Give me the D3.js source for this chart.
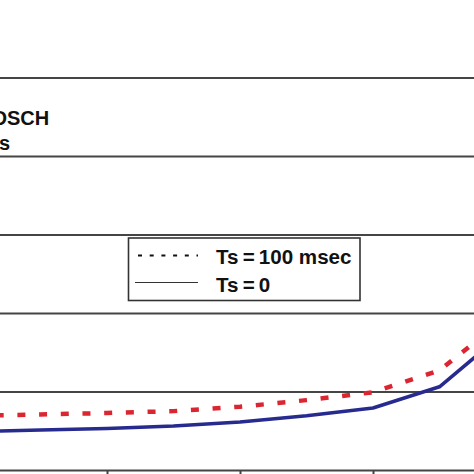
<!DOCTYPE html>
<html lang="en">
<head>
    <meta charset="utf-8">
    <title>Ts comparison</title>
    <style>
    html, body {
        margin: 0;
        padding: 0;
        background-color: white;
    }

    svg {
        display: block;
        background-color: white;
        font-family: 'Liberation Sans', Arial, sans-serif;
    }

    .grid line {
        stroke: #454545;
        stroke-width: 2px;
    }

    .x.axis path, .x.axis line {
        stroke: #454545;
        stroke-width: 2px;
    }

    .label {
        font-weight: bold;
        font-size: 20px;
        fill: #111;
    }

    .legend .label {
        font-size: 20.6px;
    }
    </style>
</head>
<body>
    <div id="vis"></div>

    <script src="https://cdn.jsdelivr.net/npm/d3@7"></script>
    <script>
var width = 474;
var height = 474;

// x positions of the samples, ticks every 10
var xValues = [0, 5, 10, 15, 20, 25, 30, 35, 40];
var xTicks = [0, 10, 20, 30, 40];
var yTicks = [1, 2, 3, 4, 5];

// Ts = 100 msec (dashed red)
var ts100 = [0.69, 0.707, 0.726, 0.75, 0.806, 0.89, 0.99, 1.27, 1.94];
// Ts = 0 (solid blue)
var ts0 = [0.49, 0.51, 0.53, 0.56, 0.61, 0.69, 0.79, 1.06, 1.77];

var legendLabels = ['Ts\u2009=\u2009100 msec', 'Ts\u2009=\u20090'];

var svg = d3.select('#vis')
    .append('svg')
    .attr('width', width)
    .attr('height', height);

var x_scale = d3.scaleLinear()
    .domain([0, 40])
    .range([-26, 506]);

var y_scale = d3.scaleLinear()
    .domain([0, 5])
    .range([470, 77.5]);

// horizontal grid lines
svg.append('g')
    .attr('class', 'grid')
    .call(d3.axisLeft(y_scale)
        .tickValues(yTicks)
        .tickSize(-width)
        .tickFormat(''))
    .call(function(g) { g.select('.domain').remove(); });

svg.append('g')
    .attr('class', 'x axis')
    .attr('transform', 'translate(0,' + y_scale(0) + ')')
    .call(d3.axisBottom(x_scale)
        .tickValues(xTicks)
        .tickSize(6)
        .tickSizeOuter(0)
        .tickFormat(''));

var line = d3.line()
    .x(function(d, i) { return x_scale(xValues[i]); })
    .y(function(d) { return y_scale(d); });

svg.append('path')
    .datum(ts0)
    .attr('fill', 'none')
    .attr('stroke', '#272a8e')
    .attr('stroke-width', 3.5)
    .attr('stroke-linejoin', 'round')
    .attr('d', line);

svg.append('path')
    .datum(ts100)
    .attr('fill', 'none')
    .attr('stroke', '#db2530')
    .attr('stroke-width', 4.5)
    .attr('stroke-dasharray', '8,13.7')
    .attr('d', line);

// title text, cut off at the left edge like the source
svg.append('text')
    .attr('class', 'label')
    .attr('x', -23)
    .attr('y', 125)
    .text('BOSCH');

svg.append('text')
    .attr('class', 'label')
    .attr('x', 10)
    .attr('y', 150)
    .attr('text-anchor', 'end')
    .text('ms');

// legend
var legend = svg.append('g')
    .attr('class', 'legend');

legend.append('rect')
    .attr('x', 128.5)
    .attr('y', 238)
    .attr('width', 231.5)
    .attr('height', 62.5)
    .attr('fill', 'white')
    .attr('stroke', '#333')
    .attr('stroke-width', 1.6);

legend.append('line')
    .attr('x1', 138)
    .attr('x2', 198)
    .attr('y1', 255.5)
    .attr('y2', 255.5)
    .attr('stroke', '#111')
    .attr('stroke-width', 2)
    .attr('stroke-dasharray', '4,7.7');

legend.append('line')
    .attr('x1', 135)
    .attr('x2', 198)
    .attr('y1', 282.5)
    .attr('y2', 282.5)
    .attr('stroke', '#333')
    .attr('stroke-width', 1);

legend.selectAll('text')
    .data(legendLabels)
    .enter()
    .append('text')
    .attr('class', 'label')
    .attr('x', 216)
    .attr('y', function(d, i) { return 263.5 + i * 28; })
    .text(function(d) { return d; });
    </script>
</body>
</html>
